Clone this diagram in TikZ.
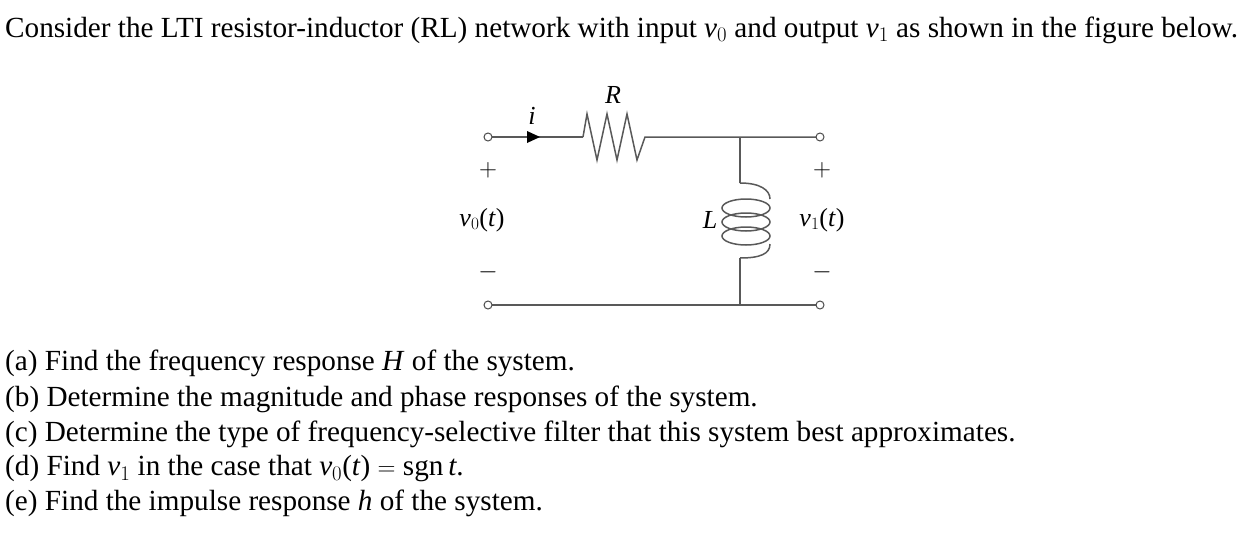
\documentclass[tikz,border=0pt]{standalone}
\usepackage{fontspec}
\setmainfont{Liberation Serif}
\usetikzlibrary{arrows.meta}
\newcommand{\iv}[1]{\textit{#1}}
\begin{document}
\begin{tikzpicture}[x=1pt,y=-1pt,
  w/.style={line width=1.5pt,draw=black!65},
  term/.style={circle,draw=black!70,line width=1pt,fill=white,inner sep=0pt,minimum size=8pt},
  lbl/.style={font=\fontsize{26}{30}\selectfont},
  txt/.style={anchor=west,inner sep=0pt,font=\fontsize{29.2}{34}\selectfont}]
\useasboundingbox (0,0) rectangle (1251,546);
\node[txt] (t0) at (5,30) {Consider the LTI resistor-inductor (RL) network with input \iv{v}$_0$ and output \iv{v}$_1$ as shown in the figure below.};
\node[txt] (ta) at (5,363) {(a) Find the frequency response \iv{H} of the system.};
\node[txt] (tb) at (5,399) {(b) Determine the magnitude and phase responses of the system.};
\node[txt] (tc) at (5,434) {(c) Determine the type of frequency-selective filter that this system best approximates.};
\node[txt] (td) at (5,469) {(d) Find \iv{v}$_1$ in the case that \iv{v}$_0$(\iv{t}) $=$ sgn\,\iv{t}.};
\node[txt] (te) at (5,503) {(e) Find the impulse response \iv{h} of the system.};
% circuit
\coordinate (rl) at (583,137);
\coordinate (rr) at (645,137);
\coordinate (j) at (740,137);
\coordinate (jb) at (740,305);
\coordinate (lt) at (740,183);
\coordinate (lb) at (740,258);
\draw[w] (488,137) -- (rl);
\draw[w] (rl) -- (587,114) -- (597,160) -- (607,114) -- (617,160) -- (627,114) -- (637,160) -- (rr) -- (j) -- (820,137);
\draw[w] (488,305) -- (820,305);
\draw[w] (j) -- (lt);
\draw[w] (lb) -- (jb);
\draw[w] (lt) .. controls (760,183) and (770,190) .. (770,199);
\draw[w] (770,244) .. controls (770,254) and (760,258) .. (lb);
\draw[w] (746,208) ellipse [x radius=24,y radius=9];
\draw[w] (746,222) ellipse [x radius=24,y radius=9];
\draw[w] (746,236) ellipse [x radius=24,y radius=9];
\fill[black] (540,137) -- (527,131) -- (527,143) -- cycle;
\node[term] (a) at (488,137) {};
\node[term] (b) at (488,305) {};
\node[term] (c) at (820,137) {};
\node[term] (d) at (820,305) {};
\node[lbl] (R) at (613,95) {\iv{R}};
\node[lbl] (i) at (532,116) {\iv{i}};
\node[lbl] (L) at (710,220) {\iv{L}};
\node[lbl] (v0) at (482,220) {\iv{v}$_0$(\iv{t})};
\node[lbl] (v1) at (822,220) {\iv{v}$_1$(\iv{t})};
\node[lbl] (p0) at (488,170) {$+$};
\node[lbl] (m0) at (488,272) {$-$};
\node[lbl] (p1) at (822,170) {$+$};
\node[lbl] (m1) at (822,272) {$-$};
\end{tikzpicture}
\end{document}
